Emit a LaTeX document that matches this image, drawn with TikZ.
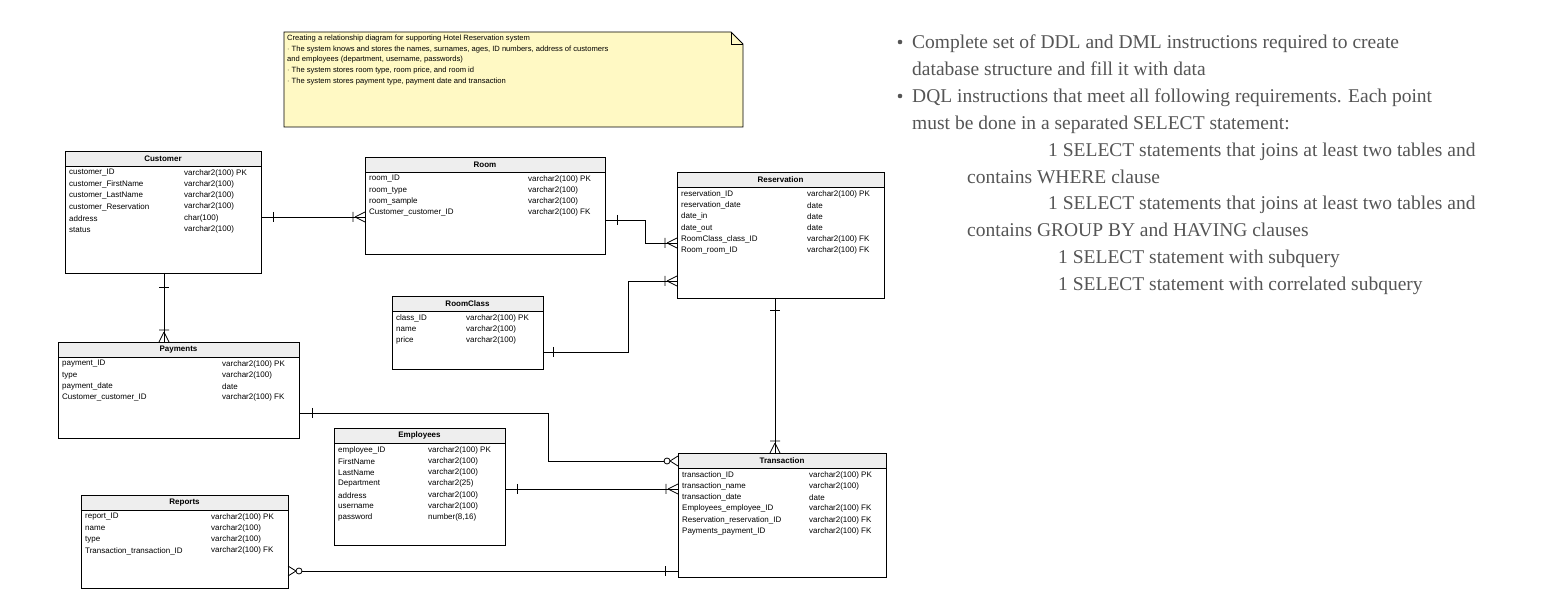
\documentclass[tikz,border=0pt]{standalone}
\usepackage{fontspec}
\setmainfont{Liberation Sans}
\newfontfamily\serifr{Liberation Serif}
\definecolor{hdr}{HTML}{EEEEEE}
\definecolor{notey}{HTML}{FFF9C4}
\definecolor{gtext}{HTML}{555555}
\newcommand\tbl[7]{% name, x1,y1,x2,y2, title, typeoffset ; rows via \rows
  \draw[line width=0.9pt,fill=white] (#2,#3) rectangle (#4,#5);
  \draw[line width=0.9pt,fill=hdr] (#2,#3) rectangle (#4,#3+15);
  \node[hd] (#1) at ({(#2+#4)/2},#3+7.5) {#6};
  \coordinate (#1-o) at (#2+4,#3+22);
  \def\tyo{#7}}
\newcommand\rowx[4]{% tablename, index, name, type
  \node[cell] (#1-n#2) at ($(#1-o)+(0,{(#2-1)*11.3})$) {#3};
  \node[cell] (#1-t#2) at ($(#1-o)+(\tyo-4,{(#2-1)*11.3})$) {#4};}
\newcommand\crowR[2]{% foot opening toward +x at (#1,#2)
  \draw (#1-10,#2) -- (#1,#2-5) (#1-10,#2) -- (#1,#2+5) (#1-12,#2-5) -- (#1-12,#2+5);}
\newcommand\crowD[2]{% foot opening toward +y
  \draw (#1,#2-10) -- (#1-5,#2) (#1,#2-10) -- (#1+5,#2) (#1-5,#2-12) -- (#1+5,#2-12);}
\newcommand\zcrowR[2]{%
  \draw (#1-8,#2) -- (#1,#2-5) (#1-8,#2) -- (#1,#2+5); \draw[fill=white] (#1-11,#2) circle (3);}
\newcommand\zcrowL[2]{%
  \draw (#1+8,#2) -- (#1,#2-5) (#1+8,#2) -- (#1,#2+5); \draw[fill=white] (#1+11,#2) circle (3);}
\usetikzlibrary{calc}
\begin{document}
\begin{tikzpicture}[x=1pt,y=-1pt,
  hd/.style={font=\fontsize{8}{9}\selectfont\bfseries,inner sep=0pt},
  cell/.style={font=\fontsize{8}{9}\selectfont,anchor=west,inner sep=0pt},
  conn/.style={line width=0.8pt},
  bul/.style={font=\serifr\fontsize{19.5}{22}\selectfont,text=gtext,anchor=base west,inner sep=0pt}]
\useasboundingbox (0,0) rectangle (1559,609);
% note
\draw[line width=0.9pt,fill=notey] (284,32) -- (731,32) -- (743,44) -- (743,127) -- (284,127) -- cycle;
\draw (731,32) -- (731,44) -- (743,44);
\node[cell,anchor=north west,align=left,font=\fontsize{7.6}{10.6}\selectfont] (note) at (287,35)
{Creating a relationship diagram for supporting Hotel Reservation system\\
$\cdot$ The system knows and stores the names, surnames, ages, ID numbers, address of customers\\
and employees (department, username, passwords)\\
$\cdot$ The system stores room type, room price, and room id\\
$\cdot$ The system stores payment type, payment date and transaction};
% tables
\tbl{cus}{65}{151}{261}{273}{Customer}{119}
\rowx{cus}{1}{customer\_ID}{varchar2(100) PK}
\rowx{cus}{2}{customer\_FirstName}{varchar2(100)}
\rowx{cus}{3}{customer\_LastName}{varchar2(100)}
\rowx{cus}{4}{customer\_Reservation}{varchar2(100)}
\rowx{cus}{5}{address}{char(100)}
\rowx{cus}{6}{status}{varchar2(100)}
\tbl{room}{365}{157}{605}{254}{Room}{163}
\rowx{room}{1}{room\_ID}{varchar2(100) PK}
\rowx{room}{2}{room\_type}{varchar2(100)}
\rowx{room}{3}{room\_sample}{varchar2(100)}
\rowx{room}{4}{Customer\_customer\_ID}{varchar2(100) FK}
\tbl{res}{677}{172}{884}{298}{Reservation}{130}
\rowx{res}{1}{reservation\_ID}{varchar2(100) PK}
\rowx{res}{2}{reservation\_date}{date}
\rowx{res}{3}{date\_in}{date}
\rowx{res}{4}{date\_out}{date}
\rowx{res}{5}{RoomClass\_class\_ID}{varchar2(100) FK}
\rowx{res}{6}{Room\_room\_ID}{varchar2(100) FK}
\tbl{rc}{392}{296}{543}{369}{RoomClass}{74}
\rowx{rc}{1}{class\_ID}{varchar2(100) PK}
\rowx{rc}{2}{name}{varchar2(100)}
\rowx{rc}{3}{price}{varchar2(100)}
\tbl{pay}{58}{342}{299}{438}{Payments}{164}
\rowx{pay}{1}{payment\_ID}{varchar2(100) PK}
\rowx{pay}{2}{type}{varchar2(100)}
\rowx{pay}{3}{payment\_date}{date}
\rowx{pay}{4}{Customer\_customer\_ID}{varchar2(100) FK}
\tbl{emp}{334}{428}{505}{545}{Employees}{94}
\rowx{emp}{1}{employee\_ID}{varchar2(100) PK}
\rowx{emp}{2}{FirstName}{varchar2(100)}
\rowx{emp}{3}{LastName}{varchar2(100)}
\rowx{emp}{4}{Department}{varchar2(25)}
\rowx{emp}{5}{address}{varchar2(100)}
\rowx{emp}{6}{username}{varchar2(100)}
\rowx{emp}{7}{password}{number(8,16)}
\tbl{tr}{678}{453}{886}{577}{Transaction}{131}
\rowx{tr}{1}{transaction\_ID}{varchar2(100) PK}
\rowx{tr}{2}{transaction\_name}{varchar2(100)}
\rowx{tr}{3}{transaction\_date}{date}
\rowx{tr}{4}{Employees\_employee\_ID}{varchar2(100) FK}
\rowx{tr}{5}{Reservation\_reservation\_ID}{varchar2(100) FK}
\rowx{tr}{6}{Payments\_payment\_ID}{varchar2(100) FK}
\tbl{rep}{81}{495}{288}{588}{Reports}{130}
\rowx{rep}{1}{report\_ID}{varchar2(100) PK}
\rowx{rep}{2}{name}{varchar2(100)}
\rowx{rep}{3}{type}{varchar2(100)}
\rowx{rep}{4}{Transaction\_transaction\_ID}{varchar2(100) FK}
% connectors
\begin{scope}[conn]
\coordinate (a1) at (261,217); \coordinate (a2) at (365,217);
\draw (a1) -- (a2); \draw (273,212) -- (273,222); \crowR{365}{217}
\coordinate (b1) at (605,220); \coordinate (b2) at (677,243);
\draw (b1) -- (645,220) |- (b2); \draw (617,215) -- (617,225); \crowR{677}{243}
\coordinate (c1) at (543,352); \coordinate (c2) at (677,281);
\draw (c1) -- (628,352) |- (c2); \draw (553,347) -- (553,357); \crowR{677}{281}
\coordinate (d1) at (164,273); \coordinate (d2) at (164,342);
\draw (d1) -- (d2); \draw (159,287) -- (169,287); \crowD{164}{342}
\coordinate (e1) at (775,298); \coordinate (e2) at (775,453);
\draw (e1) -- (e2); \draw (770,310) -- (780,310); \crowD{775}{453}
\coordinate (f1) at (299,413); \coordinate (f2) at (678,461);
\draw (f1) -- (548,413) |- (665,461); \draw (312,408) -- (312,418); \zcrowR{678}{461}
\coordinate (g1) at (505,489); \coordinate (g2) at (678,489);
\draw (g1) -- (g2); \draw (517,484) -- (517,494); \crowR{678}{489}
\coordinate (h1) at (288,571); \coordinate (h2) at (678,571);
\draw (301,571) -- (h2); \draw (665,566) -- (665,576); \zcrowL{288}{571}
\end{scope}
% right text
\fill[gtext] (900,42) circle (2.3); \fill[gtext] (900,96) circle (2.3);
\node[bul] (t1) at (912,49) {Complete set of DDL and DML instructions required to create};
\node[bul] (t2) at (912,76) {database structure and fill it with data};
\node[bul] (t3) at (912,103) {DQL instructions that meet all following requirements. Each point};
\node[bul] (t4) at (912,130) {must be done in a separated SELECT statement:};
\node[bul] (t5) at (1048,157) {1 SELECT statements that joins at least two tables and};
\node[bul] (t6) at (967,184) {contains WHERE clause};
\node[bul] (t7) at (1048,210) {1 SELECT statements that joins at least two tables and};
\node[bul] (t8) at (967,237) {contains GROUP BY and HAVING clauses};
\node[bul] (t9) at (1058,264) {1 SELECT statement with subquery};
\node[bul] (t10) at (1058,291) {1 SELECT statement with correlated subquery};
\end{tikzpicture}
\end{document}
